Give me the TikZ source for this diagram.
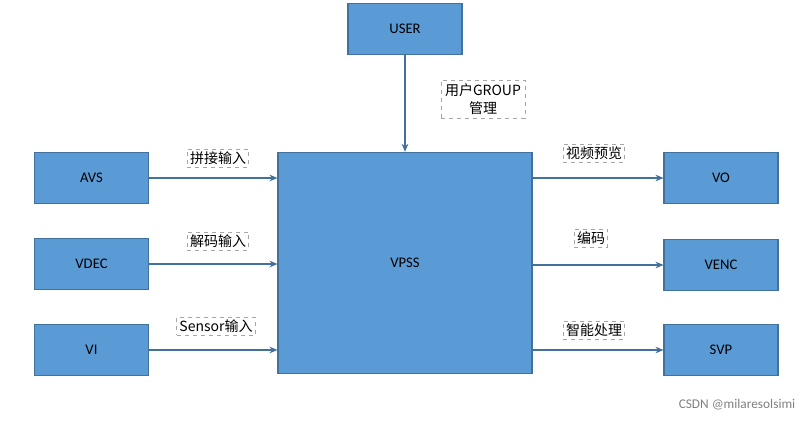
\documentclass[tikz,border=0pt]{standalone}
\usepackage{fontspec}
\setmainfont{Carlito}
\newfontfamily\cjk{Noto Sans CJK SC}
\usetikzlibrary{arrows.meta}
\definecolor{bfill}{HTML}{5B9BD5}
\definecolor{bdraw}{HTML}{41719C}
\begin{document}
\begin{tikzpicture}[x=0.75pt,y=-0.75pt,
  box/.style={draw=bdraw,fill=bfill,line width=0.8pt,minimum width=85.5pt,minimum height=38pt,inner sep=0pt,font=\fontsize{11}{13}\selectfont},
  lab/.style={draw=gray!70,dashed,line width=0.5pt,inner sep=2pt,font=\cjk\fontsize{10.5}{13}\selectfont,align=center,fill=white},
  arr/.style={-{Stealth[length=6pt,width=5pt]},draw=bdraw,line width=0.8pt}]
\useasboundingbox (0,0) rectangle (811,421);
\node[box] (user) at (405,29) {USER};
\node[box] (avs) at (91.5,178) {AVS};
\node[box] (vdec) at (91.5,264) {VDEC};
\node[box] (vi) at (91.5,350) {VI};
\node[box,minimum width=190.5pt,minimum height=166pt] (vpss) at (405,263) {VPSS};
\node[box] (vo) at (721,178) {VO};
\node[box] (venc) at (721,265) {VENC};
\node[box] (svp) at (721,350) {SVP};
\draw[arr] (user) -- (vpss);
\draw[arr] (avs.east) -- (vpss.west |- avs.east);
\draw[arr] (vdec.east) -- (vpss.west |- vdec.east);
\draw[arr] (vi.east) -- (vpss.west |- vi.east);
\draw[arr] (vpss.east |- vo.west) -- (vo.west);
\draw[arr] (vpss.east |- venc.west) -- (venc.west);
\draw[arr] (vpss.east |- svp.west) -- (svp.west);
\node[lab,inner sep=3pt] (l1) at (483,99) {用户GROUP\\管理};
\node[lab] (l2) at (218,158) {拼接输入};
\node[lab] (l3) at (218,241) {解码输入};
\node[lab] (l4) at (216,326) {Sensor输入};
\node[lab] (l5) at (594,153) {视频预览};
\node[lab] (l6) at (591,238) {编码};
\node[lab] (l7) at (594,330) {智能处理};
\node[anchor=east,text=gray,font=\fontsize{10}{12}\selectfont] (wm) at (800,405) {CSDN @milaresolsimi};
\end{tikzpicture}
\end{document}
